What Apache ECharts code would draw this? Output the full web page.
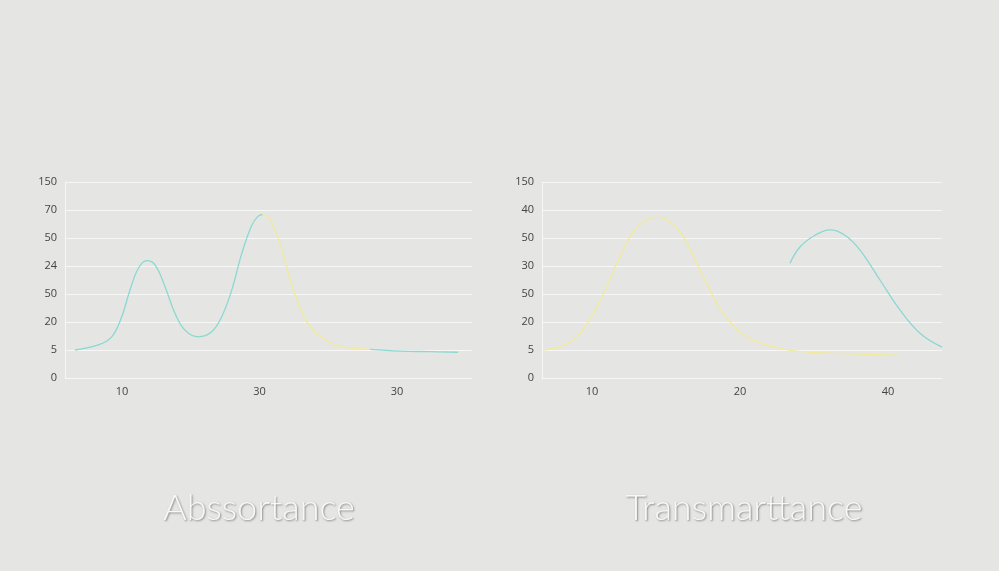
<!DOCTYPE html>
<html><head><meta charset="utf-8">
<script src="https://cdn.jsdelivr.net/npm/echarts@6/dist/echarts.min.js"></script>
<style>html,body{margin:0;padding:0;background:#e5e5e4;}#c{width:999px;height:571px;}</style>
</head><body><div id="c"></div>
<script>
// Tick labels
const leftYLabels = ["0","5","20","50","24","50","70","150"];
const rightYLabels = ["0","5","20","50","30","50","40","150"];
const leftXTicks = [10, 20, 30];
const leftXLabels = ["10","30","30"];
const rightXTicks = [10, 20, 30];
const rightXLabels = ["10","20","40"];
const titles = ["Abssortance", "Transmarttance"];

// Absorptance panel (x, level)
const absTealA = [[6.58,1.0],[8.28,1.18],[9.25,1.47],[9.98,2.19],[10.58,3.14],[11.19,3.92],[11.8,4.19],[12.4,4.04],[13.13,3.26],[13.85,2.31],[14.58,1.71],[15.55,1.47],[16.52,1.65],[17.25,2.19],[17.98,3.14],[18.71,4.45],[19.43,5.45],[19.9,5.78],[20.23,5.84]];
const absYellow = [[20.23,5.84],[20.6,5.76],[20.89,5.57],[21.61,4.62],[22.34,3.31],[23.07,2.36],[23.8,1.76],[24.64,1.4],[25.85,1.14],[28.04,1.02]];
const absTealB = [[28.04,1.02],[30.22,0.96],[32.4,0.94],[34.44,0.92]];

// Transmittance panel
const trYellow = [[6.71,1.0],[7.84,1.12],[8.97,1.47],[10.09,2.31],[10.99,3.26],[11.89,4.33],[12.79,5.23],[13.7,5.67],[14.37,5.74],[15.27,5.58],[16.17,5.05],[17.07,4.1],[17.97,3.14],[18.87,2.31],[20.0,1.65],[21.13,1.3],[22.7,1.07],[24.05,0.95],[27.43,0.86],[30.68,0.82]];
const trTeal = [[23.38,4.1],[24.05,4.68],[25.07,5.1],[26.08,5.29],[27.09,5.1],[28.11,4.57],[29.46,3.5],[30.81,2.43],[32.16,1.6],[33.65,1.1]];

const TEAL = '#8ad9d0', YELLOW = '#f2ea9a';
const chart = echarts.init(document.getElementById('c'));

function yAxis(idx, labels){
  return {type:'value', gridIndex:idx, min:0, max:7, interval:1,
    axisLine:{show:true, lineStyle:{color:'#f7f7f7', width:1}},
    axisTick:{show:false},
    splitLine:{lineStyle:{color:'#f7f7f7', width:1}},
    axisLabel:{color:'#444', fontSize:11, fontFamily:'Open Sans', margin:8,
      formatter:v=>labels[Math.round(v)]}};
}
function xAxis(idx, min, max, ticks, labels){
  return {type:'value', gridIndex:idx, min:min, max:max,
    axisLine:{show:true, lineStyle:{color:'#f7f7f7', width:1}},
    axisTick:{show:false},
    splitLine:{show:false},
    axisLabel:{color:'#444', fontSize:11, fontFamily:'Open Sans', margin:8,
      customValues:ticks, formatter:v=>{const i=ticks.indexOf(v);return i>=0?labels[i]:'';}}};
}
function line(x, y, data, color){
  return {type:'line', xAxisIndex:x, yAxisIndex:y, data:data, smooth:0.4, symbol:'none',
    lineStyle:{color:color, width:1.3}, z:color===YELLOW?3:2};
}
const titleStyle = {color:'#f8f8f8', fontSize:36, fontWeight:300, fontFamily:'Lato',
  textShadowColor:'rgba(60,60,60,0.55)', textShadowBlur:2, textShadowOffsetX:1, textShadowOffsetY:1};

chart.setOption({
  backgroundColor:'#e5e5e4',
  animation:false,
  title:[
    {text:titles[0], left:254, top:485, textAlign:'center', textStyle:titleStyle},
    {text:titles[1], left:739, top:485, textAlign:'center', textStyle:titleStyle}
  ],
  grid:[
    {left:65, top:182, width:407, height:196},
    {left:542, top:182, width:400, height:196}
  ],
  xAxis:[xAxis(0,5.855,35.45,leftXTicks,leftXLabels), xAxis(1,6.62,33.65,rightXTicks,rightXLabels)],
  yAxis:[yAxis(0,leftYLabels), yAxis(1,rightYLabels)],
  series:[
    line(0,0,absTealA,TEAL), line(0,0,absYellow,YELLOW), line(0,0,absTealB,TEAL),
    line(1,1,trYellow,YELLOW), line(1,1,trTeal,TEAL)
  ]
});
</script></body></html>
